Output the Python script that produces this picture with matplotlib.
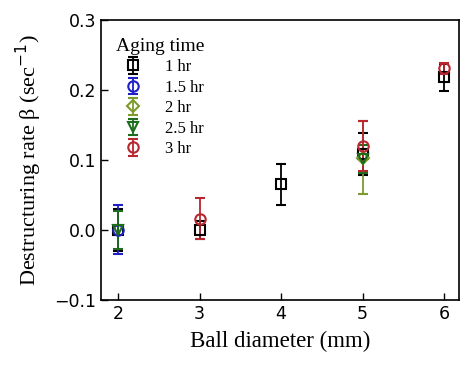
import matplotlib
matplotlib.use("Agg")
import matplotlib.pyplot as plt

# ball diameter (mm), destructuring rate and error per aging time
d_1hr = [2, 3, 4, 5, 6]
b_1hr = [0.0, 0.0, 0.065, 0.108, 0.218]
e_1hr = [0.030, 0.013, 0.029, 0.030, 0.019]

d_15hr = [2]
b_15hr = [0.0]
e_15hr = [0.035]

d_2hr = [5]
b_2hr = [0.103]
e_2hr = [0.052]

d_25hr = [2, 5]
b_25hr = [0.0, 0.102]
e_25hr = [0.027, 0.02]

d_3hr = [3, 5, 6]
b_3hr = [0.016, 0.12, 0.231]
e_3hr = [0.029, 0.036, 0.008]

series = [
    ("1 hr", d_1hr, b_1hr, e_1hr, "black", "s"),
    ("1.5 hr", d_15hr, b_15hr, e_15hr, "#1f1fc8", "o"),
    ("2 hr", d_2hr, b_2hr, e_2hr, "#7d9a2e", "D"),
    ("2.5 hr", d_25hr, b_25hr, e_25hr, "#1c6e1c", "v"),
    ("3 hr", d_3hr, b_3hr, e_3hr, "#b8262e", "o"),
]

serif = ["Liberation Serif", "DejaVu Serif"]

fig, ax = plt.subplots(figsize=(4.74, 3.69), dpi=100)
fig.subplots_adjust(left=0.213, right=0.968, top=0.946, bottom=0.187)

for label, x, y, err, color, marker in series:
    ms = 6.5 if marker == "D" else 7.5
    ax.errorbar(x, y, yerr=err, fmt=marker, color=color, mfc="none",
                mec=color, ms=ms, mew=1.5, elinewidth=1.3, capsize=3.5,
                capthick=1.3, label=label)

ax.set_xlim(1.79, 6.18)
ax.set_ylim(-0.1, 0.3)
ax.set_xticks([2, 3, 4, 5, 6])
ax.set_yticks([-0.1, 0.0, 0.1, 0.2, 0.3])
ax.tick_params(direction="in", labelsize=12.5, length=5, width=1)
for spine in ax.spines.values():
    spine.set_linewidth(1.2)

ax.set_xlabel("Ball diameter (mm)", family=serif, fontsize=16.5, labelpad=6)
ax.set_ylabel(r"Destructuring rate β (sec$^{-1}$)", family=serif,
              fontsize=16, labelpad=7)

leg = ax.legend(title="Aging time", loc="upper left", frameon=False,
                prop={"family": serif, "size": 12}, handletextpad=0.9,
                labelspacing=0.27, bbox_to_anchor=(0.0, 0.99))
leg.get_title().set_family(serif)
leg.get_title().set_fontsize(14)

fig.savefig("out.png", dpi=100)
